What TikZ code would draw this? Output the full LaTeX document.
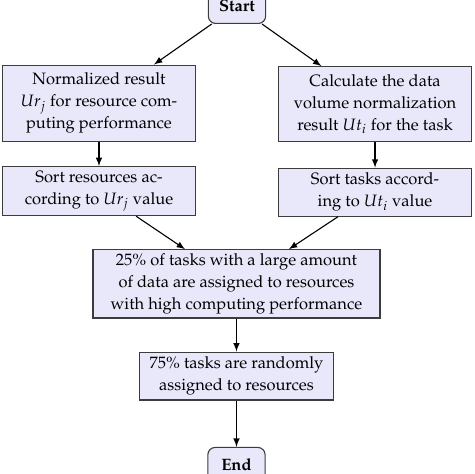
\documentclass[tikz,border=0pt]{standalone}
\usepackage[T1]{fontenc}
\usepackage{mathpazo}
\usetikzlibrary{arrows}
\definecolor{boxfill}{RGB}{232,232,250}
\definecolor{boxline}{RGB}{60,60,60}
\tikzstyle{processstep}=[draw=boxline,fill=boxfill,line width=0.6pt,align=center,minimum width=3.72cm,inner sep=2pt,font=\fontsize{9}{12}\selectfont]
\tikzstyle{terminal}=[draw=boxline,fill=boxfill,line width=0.6pt,rounded corners=4pt,font=\fontsize{9}{12}\selectfont\bfseries,minimum width=1.1cm,minimum height=0.66cm]
\tikzstyle{orientedarc}=[->,>=latex,line width=0.6pt]

\begin{document}
\begin{tikzpicture}

\useasboundingbox (0cm,0cm) rectangle (9.1cm,-9.1cm);

\node[terminal] (START) at (4.55cm,-0.12cm) {Start};
\node[processstep,minimum height=1.46cm] (L1) at (1.90cm,-1.98cm) {Normalized result \\ $Ur_j$ for resource com- \\ puting performance};
\node[processstep,minimum height=1.44cm] (R1) at (7.20cm,-2.0cm) {Calculate the data \\ volume normalization \\ result $Ut_i$ for the task};
\node[processstep,minimum height=0.94cm] (L2) at (1.90cm,-3.67cm) {Sort resources ac- \\ cording to $Ur_j$ value};
\node[processstep,minimum height=0.92cm] (R2) at (7.20cm,-3.69cm) {Sort tasks accord- \\ ing to $Ut_i$ value};
\node[processstep,minimum width=5.51cm,minimum height=1.31cm] (S3) at (4.54cm,-5.45cm) {25\% of tasks with a large amount \\ of data are assigned to resources \\ with high computing performance};
\node[processstep,minimum height=0.92cm] (S4) at (4.54cm,-7.22cm) {75\% tasks are randomly \\ assigned to resources};
\node[terminal] (END) at (4.54cm,-8.92cm) {End};

\draw[orientedarc] (START) -- (L1);
\draw[orientedarc] (START) -- (R1);
\draw[orientedarc] (L1) -- (L2);
\draw[orientedarc] (R1) -- (R2);
\draw[orientedarc] (L2) -- (S3);
\draw[orientedarc] (R2) -- (S3);
\draw[orientedarc] (S3) -- (S4);
\draw[orientedarc] (S4) -- (END);

\end{tikzpicture}
\end{document}
